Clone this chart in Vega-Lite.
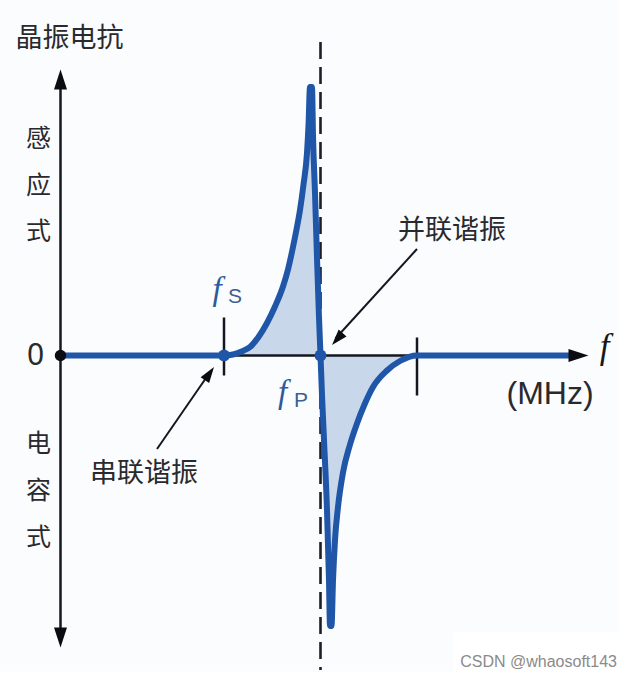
{
  "$schema": "https://vega.github.io/schema/vega-lite/v6.json",
  "width": 632,
  "height": 676,
  "padding": 0,
  "autosize": "none",
  "background": "#ffffff",
  "config": {"view": {"stroke": null}},
  "datasets": {
    "panel": [{"x": -60.5, "x2": 557.5, "y": 355.5, "y2": -316}],
    "stamp": [{"x": 393, "x2": 571.5, "y": -277, "y2": -320.5}],
    "curve": [
      {"x": 0, "y": 0}, {"x": 163.5, "y": 0}, {"x": 172.5, "y": 1}, {"x": 181, "y": 4},
      {"x": 189.5, "y": 8.5}, {"x": 198, "y": 18.5}, {"x": 206.5, "y": 32.5}, {"x": 214.5, "y": 49},
      {"x": 222.5, "y": 69}, {"x": 227.5, "y": 86}, {"x": 232.5, "y": 108.5}, {"x": 236, "y": 126},
      {"x": 239.5, "y": 145.5}, {"x": 243, "y": 171}, {"x": 246.5, "y": 202.5}, {"x": 248, "y": 230},
      {"x": 249.5, "y": 268.5}, {"x": 251.5, "y": 268.5}, {"x": 252.5, "y": 220}, {"x": 254.5, "y": 162.5},
      {"x": 256.5, "y": 98}, {"x": 258.5, "y": 38}, {"x": 260, "y": 0}, {"x": 261.5, "y": -39.5},
      {"x": 263.5, "y": -84.5}, {"x": 266.5, "y": -155}, {"x": 268.5, "y": -225}, {"x": 269.5, "y": -270.5},
      {"x": 271, "y": -270.5}, {"x": 272.5, "y": -225}, {"x": 274.5, "y": -184.5}, {"x": 277.5, "y": -151.5},
      {"x": 282.5, "y": -117}, {"x": 289.5, "y": -89}, {"x": 296.5, "y": -68}, {"x": 304, "y": -49},
      {"x": 312.5, "y": -31.5}, {"x": 326.5, "y": -15}, {"x": 339.5, "y": -5.5},
      {"x": 356.5, "y": 0}, {"x": 514.5, "y": 0}
    ],
    "axes": [
      {"x": 0, "y": 275, "x2": 0, "y2": -280},
      {"x": 0, "y": 0, "x2": 512, "y2": 0},
      {"x": 163.5, "y": 38, "x2": 163.5, "y2": -20},
      {"x": 356.5, "y": 18, "x2": 356.5, "y2": -40}
    ],
    "pointers": [
      {"x": 356.5, "y": 106.5, "x2": 275, "y2": 17},
      {"x": 96.5, "y": -93.5, "x2": 150, "y2": -16}
    ],
    "resonance": [{"x": 260, "y": 313.5, "x2": 260, "y2": -314.5}],
    "nodes": [{"x": 163.5, "y": 0}, {"x": 260, "y": 0}],
    "origin": [{"x": 0, "y": 0}],
    "headUp": [{"x": 0, "y": 286}],
    "headDown": [{"x": 0, "y": -292}],
    "headRight": [{"x": 528, "y": 0}],
    "headA": [{"x": 271.5, "y": 10.5}],
    "headB": [{"x": 153.5, "y": -11.5}],
    "title": [{"x": 9, "y": 317, "label": "晶振电抗"}],
    "zero": [{"x": -25, "y": 0, "label": "0"}],
    "sides": [
      {"x": -22, "y": 217, "label": "感"}, {"x": -22, "y": 170, "label": "应"}, {"x": -22, "y": 124, "label": "式"},
      {"x": -22, "y": -88, "label": "电"}, {"x": -22, "y": -135, "label": "容"}, {"x": -22, "y": -182, "label": "式"}
    ],
    "notes": [
      {"x": 391.5, "y": 125, "label": "并联谐振"},
      {"x": 83.5, "y": -118, "label": "串联谐振"}
    ],
    "unit": [{"x": 489.5, "y": -38, "label": "(MHz)"}],
    "fBlue": [{"x": 156.5, "y": 66, "label": "f"}, {"x": 222, "y": -37, "label": "f"}],
    "fSubs": [{"x": 174.5, "y": 59, "label": "S"}, {"x": 240.5, "y": -45, "label": "P"}],
    "fBlack": [{"x": 544, "y": 9, "label": "f"}],
    "credit": [{"x": 556.5, "y": -306, "label": "CSDN @whaosoft143"}]
  },
  "encoding": {
    "x": {"field": "x", "type": "quantitative", "scale": {"domain": [-60.5, 571.5]}, "axis": null},
    "y": {"field": "y", "type": "quantitative", "scale": {"domain": [-320.5, 355.5]}, "axis": null}
  },
  "layer": [
    {
      "data": {"name": "panel"},
      "mark": {"type": "rect", "color": "#fafcfe"},
      "encoding": {"x2": {"field": "x2"}, "y2": {"field": "y2"}}
    },
    {
      "data": {"name": "curve"},
      "transform": [{"filter": "datum.x >= 163.5 && datum.x <= 356.5"}],
      "mark": {"type": "area", "color": "#c9d7ea", "interpolate": "monotone"},
      "encoding": {"y2": {"datum": 0}}
    },
    {
      "data": {"name": "axes"},
      "mark": {"type": "rule", "color": "#14171f", "strokeWidth": 2.5},
      "encoding": {"x2": {"field": "x2"}, "y2": {"field": "y2"}}
    },
    {
      "data": {"name": "resonance"},
      "mark": {"type": "rule", "color": "#1d1f26", "strokeWidth": 2.6, "strokeDash": [17, 8]},
      "encoding": {"x2": {"field": "x2"}, "y2": {"field": "y2"}}
    },
    {
      "data": {"name": "curve"},
      "mark": {"type": "line", "color": "#2056a8", "strokeWidth": 6, "interpolate": "monotone", "strokeCap": "round", "strokeJoin": "round"}
    },
    {
      "data": {"name": "nodes"},
      "mark": {"type": "point", "shape": "circle", "filled": true, "opacity": 1, "size": 140, "color": "#2056a8"}
    },
    {
      "data": {"name": "origin"},
      "mark": {"type": "point", "shape": "circle", "filled": true, "opacity": 1, "size": 130, "color": "#0c0c10"}
    },
    {
      "data": {"name": "pointers"},
      "mark": {"type": "rule", "color": "#14171f", "strokeWidth": 2},
      "encoding": {"x2": {"field": "x2"}, "y2": {"field": "y2"}}
    },
    {
      "data": {"name": "headUp"},
      "mark": {"type": "point", "shape": "M0,0L0.65,2L-0.65,2Z", "filled": true, "opacity": 1, "size": 400, "angle": 0, "color": "#0c0c10"}
    },
    {
      "data": {"name": "headDown"},
      "mark": {"type": "point", "shape": "M0,0L0.65,2L-0.65,2Z", "filled": true, "opacity": 1, "size": 400, "angle": 180, "color": "#0c0c10"}
    },
    {
      "data": {"name": "headRight"},
      "mark": {"type": "point", "shape": "M0,0L0.65,2L-0.65,2Z", "filled": true, "opacity": 1, "size": 400, "angle": 90, "color": "#0c0c10"}
    },
    {
      "data": {"name": "headA"},
      "mark": {"type": "point", "shape": "M0,0L0.65,2L-0.65,2Z", "filled": true, "opacity": 1, "size": 256, "angle": 221.5, "color": "#0c0c10"}
    },
    {
      "data": {"name": "headB"},
      "mark": {"type": "point", "shape": "M0,0L0.65,2L-0.65,2Z", "filled": true, "opacity": 1, "size": 256, "angle": 34.8, "color": "#0c0c10"}
    },
    {
      "data": {"name": "stamp"},
      "mark": {"type": "rect", "color": "#ffffff"},
      "encoding": {"x2": {"field": "x2"}, "y2": {"field": "y2"}}
    },
    {
      "data": {"name": "title"},
      "mark": {"type": "text", "font": "Noto Sans CJK SC", "fontSize": 27, "color": "#2a2a2e"},
      "encoding": {"text": {"field": "label"}}
    },
    {
      "data": {"name": "zero"},
      "mark": {"type": "text", "font": "Noto Sans", "fontSize": 30, "color": "#2a2a2e"},
      "encoding": {"text": {"field": "label"}}
    },
    {
      "data": {"name": "sides"},
      "mark": {"type": "text", "font": "Noto Sans CJK SC", "fontSize": 25, "color": "#2a2a2e"},
      "encoding": {"text": {"field": "label"}}
    },
    {
      "data": {"name": "notes"},
      "mark": {"type": "text", "font": "Noto Sans CJK SC", "fontSize": 27, "color": "#2a2a2e"},
      "encoding": {"text": {"field": "label"}}
    },
    {
      "data": {"name": "unit"},
      "mark": {"type": "text", "font": "Liberation Sans", "fontSize": 32, "color": "#2a2a2e"},
      "encoding": {"text": {"field": "label"}}
    },
    {
      "data": {"name": "fBlue"},
      "mark": {"type": "text", "font": "Liberation Serif", "fontStyle": "italic", "fontSize": 33, "color": "#2c5a9c"},
      "encoding": {"text": {"field": "label"}}
    },
    {
      "data": {"name": "fSubs"},
      "mark": {"type": "text", "font": "Liberation Sans", "fontSize": 21, "color": "#3c5f94"},
      "encoding": {"text": {"field": "label"}}
    },
    {
      "data": {"name": "fBlack"},
      "mark": {"type": "text", "font": "Liberation Serif", "fontStyle": "italic", "fontSize": 35, "color": "#17171b"},
      "encoding": {"text": {"field": "label"}}
    },
    {
      "data": {"name": "credit"},
      "mark": {"type": "text", "font": "Liberation Sans", "fontSize": 16, "align": "right", "color": "#8a8a8a"},
      "encoding": {"text": {"field": "label"}}
    }
  ]
}
